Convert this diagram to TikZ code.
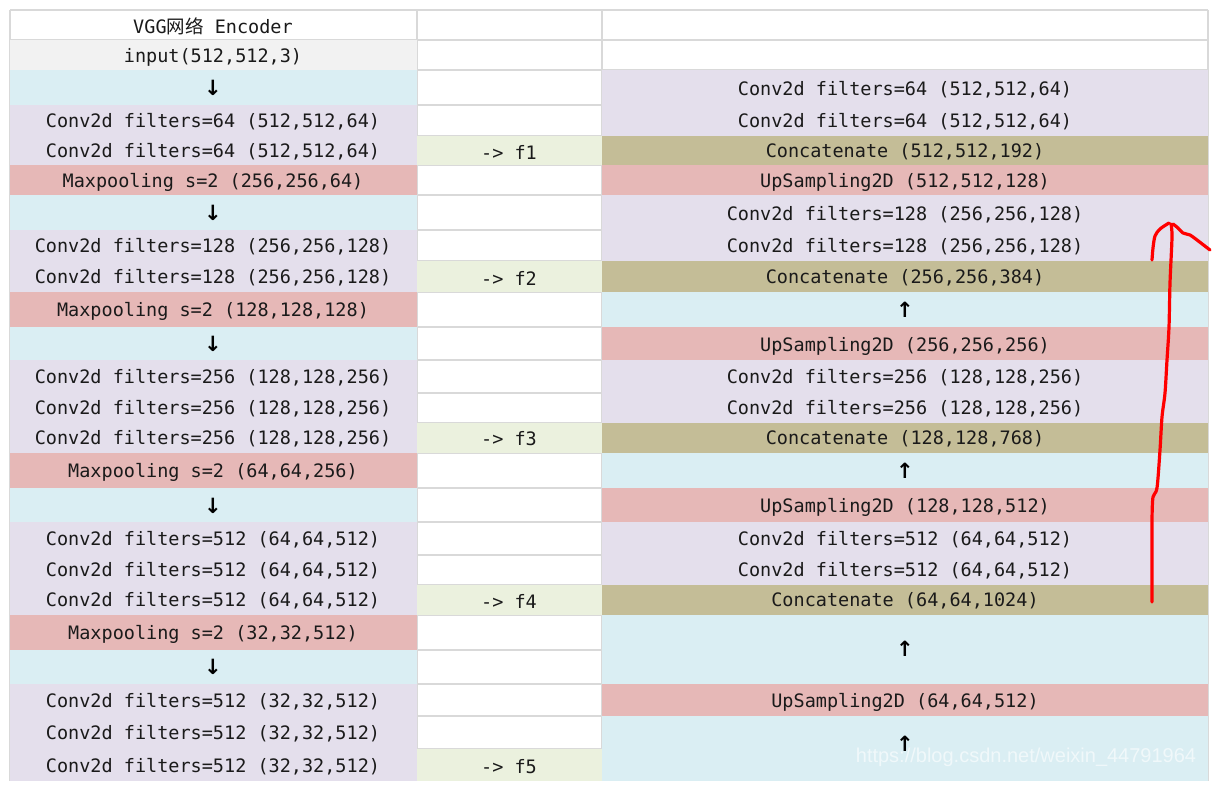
\documentclass[tikz,border=0pt]{standalone}
\usepackage{fontspec}
\setmonofont{DejaVu Sans Mono}
\newfontfamily\cjk{Noto Sans CJK SC}
\newfontfamily\wmfont{Liberation Sans}
\newfontfamily\arrowfont{DejaVu Sans}
\usepackage{tikz}

\definecolor{convcol}{HTML}{E4DFEC}
\definecolor{poolcol}{HTML}{E6B8B7}
\definecolor{flowcol}{HTML}{DAEEF3}
\definecolor{catcol}{HTML}{C4BD97}
\definecolor{featcol}{HTML}{EBF1DE}
\definecolor{incol}{HTML}{F2F2F2}
\definecolor{gridcol}{HTML}{D9D9D9}
\definecolor{inkcol}{HTML}{1A1A1A}

\tikzset{
	conv/.style={fill=convcol},
	pool/.style={fill=poolcol},
	flow/.style={fill=flowcol},
	cat/.style={fill=catcol},
	feat/.style={fill=featcol},
	inp/.style={fill=incol},
	gridline/.style={draw=gridcol, line width=1.5pt},
	txt/.style={font=\ttfamily\fontsize{18.5}{20}\selectfont, text=inkcol, inner sep=0pt},
	arw/.style={font=\arrowfont\bfseries\fontsize{21}{24}\selectfont, text=black, inner sep=0pt},
	hand/.style={draw=red, line width=3.2pt, line cap=round, line join=round},
}

\begin{document}
\begin{tikzpicture}[x=1pt, y=-1pt]
	\useasboundingbox (0,0) rectangle (1227,791);

	% grid
	\draw[gridline] (10,10) -- (1208,10);
	\draw[gridline] (10,40) -- (1208,40);
	\draw[gridline] (10,70) -- (1208,70);
	\draw[gridline] (10,105) -- (1208,105);
	\draw[gridline] (10,136) -- (1208,136);
	\draw[gridline] (10,165) -- (1208,165);
	\draw[gridline] (10,195) -- (1208,195);
	\draw[gridline] (10,230) -- (1208,230);
	\draw[gridline] (10,261) -- (1208,261);
	\draw[gridline] (10,292) -- (1208,292);
	\draw[gridline] (10,327) -- (1208,327);
	\draw[gridline] (10,360) -- (1208,360);
	\draw[gridline] (10,393) -- (1208,393);
	\draw[gridline] (10,423) -- (1208,423);
	\draw[gridline] (10,453) -- (1208,453);
	\draw[gridline] (10,488) -- (1208,488);
	\draw[gridline] (10,522) -- (1208,522);
	\draw[gridline] (10,555) -- (1208,555);
	\draw[gridline] (10,585) -- (1208,585);
	\draw[gridline] (10,615) -- (1208,615);
	\draw[gridline] (10,650) -- (1208,650);
	\draw[gridline] (10,684) -- (1208,684);
	\draw[gridline] (10,716) -- (1208,716);
	\draw[gridline] (10,749) -- (1208,749);
	\draw[gridline] (10,10) -- (10,781);
	\draw[gridline] (417,10) -- (417,781);
	\draw[gridline] (602,10) -- (602,781);
	\draw[gridline] (1208,10) -- (1208,781);

	% encoder column
	\fill[inp]  (10,40)  rectangle (417,70);
	\fill[flow] (10,70)  rectangle (417,105);
	\fill[conv] (10,105) rectangle (417,165);
	\fill[pool] (10,165) rectangle (417,195);
	\fill[flow] (10,195) rectangle (417,230);
	\fill[conv] (10,230) rectangle (417,292);
	\fill[pool] (10,292) rectangle (417,327);
	\fill[flow] (10,327) rectangle (417,360);
	\fill[conv] (10,360) rectangle (417,453);
	\fill[pool] (10,453) rectangle (417,488);
	\fill[flow] (10,488) rectangle (417,522);
	\fill[conv] (10,522) rectangle (417,615);
	\fill[pool] (10,615) rectangle (417,650);
	\fill[flow] (10,650) rectangle (417,684);
	\fill[conv] (10,684) rectangle (417,781);

	% feature column
	\fill[feat] (417,136) rectangle (602,165);
	\fill[feat] (417,261) rectangle (602,292);
	\fill[feat] (417,423) rectangle (602,453);
	\fill[feat] (417,585) rectangle (602,615);
	\fill[feat] (417,749) rectangle (602,781);

	% decoder column
	\fill[conv] (602,70)  rectangle (1208,136);
	\fill[cat]  (602,136) rectangle (1208,165);
	\fill[pool] (602,165) rectangle (1208,195);
	\fill[conv] (602,195) rectangle (1208,261);
	\fill[cat]  (602,261) rectangle (1208,292);
	\fill[flow] (602,292) rectangle (1208,327);
	\fill[pool] (602,327) rectangle (1208,360);
	\fill[conv] (602,360) rectangle (1208,423);
	\fill[cat]  (602,423) rectangle (1208,453);
	\fill[flow] (602,453) rectangle (1208,488);
	\fill[pool] (602,488) rectangle (1208,522);
	\fill[conv] (602,522) rectangle (1208,585);
	\fill[cat]  (602,585) rectangle (1208,615);
	\fill[flow] (602,615) rectangle (1208,684);
	\fill[pool] (602,684) rectangle (1208,716);
	\fill[flow] (602,716) rectangle (1208,781);

	% encoder labels
	\node[txt] (enc)  at (213,26)  {VGG{\cjk 网络} Encoder};
	\node[txt] (in)   at (213,57)  {input(512,512,3)};
	\node[arw] (ea1)  at (213,88)  {↓};
	\node[txt] (e11)  at (213,122) {Conv2d filters=64 (512,512,64)};
	\node[txt] (e12)  at (213,152) {Conv2d filters=64 (512,512,64)};
	\node[txt] (ep1)  at (213,182) {Maxpooling s=2 (256,256,64)};
	\node[arw] (ea2)  at (213,213) {↓};
	\node[txt] (e21)  at (213,247) {Conv2d filters=128 (256,256,128)};
	\node[txt] (e22)  at (213,278) {Conv2d filters=128 (256,256,128)};
	\node[txt] (ep2)  at (213,311) {Maxpooling s=2 (128,128,128)};
	\node[arw] (ea3)  at (213,344) {↓};
	\node[txt] (e31)  at (213,378) {Conv2d filters=256 (128,128,256)};
	\node[txt] (e32)  at (213,409) {Conv2d filters=256 (128,128,256)};
	\node[txt] (e33)  at (213,439) {Conv2d filters=256 (128,128,256)};
	\node[txt] (ep3)  at (213,472) {Maxpooling s=2 (64,64,256)};
	\node[arw] (ea4)  at (213,506) {↓};
	\node[txt] (e41)  at (213,540) {Conv2d filters=512 (64,64,512)};
	\node[txt] (e42)  at (213,571) {Conv2d filters=512 (64,64,512)};
	\node[txt] (e43)  at (213,601) {Conv2d filters=512 (64,64,512)};
	\node[txt] (ep4)  at (213,634) {Maxpooling s=2 (32,32,512)};
	\node[arw] (ea5)  at (213,667) {↓};
	\node[txt] (e51)  at (213,702) {Conv2d filters=512 (32,32,512)};
	\node[txt] (e52)  at (213,734) {Conv2d filters=512 (32,32,512)};
	\node[txt] (e53)  at (213,767) {Conv2d filters=512 (32,32,512)};

	% feature labels
	\node[txt] (f1) at (509,152) {-> f1};
	\node[txt] (f2) at (509,278) {-> f2};
	\node[txt] (f3) at (509,439) {-> f3};
	\node[txt] (f4) at (509,601) {-> f4};
	\node[txt] (f5) at (509,767) {-> f5};

	% decoder labels
	\node[txt] (d11) at (905,90)  {Conv2d filters=64 (512,512,64)};
	\node[txt] (d12) at (905,122) {Conv2d filters=64 (512,512,64)};
	\node[txt] (dc1) at (905,152) {Concatenate (512,512,192)};
	\node[txt] (du1) at (905,182) {UpSampling2D (512,512,128)};
	\node[txt] (d21) at (905,215) {Conv2d filters=128 (256,256,128)};
	\node[txt] (d22) at (905,247) {Conv2d filters=128 (256,256,128)};
	\node[txt] (dc2) at (905,278) {Concatenate (256,256,384)};
	\node[arw] (da2) at (905,310) {↑};
	\node[txt] (du2) at (905,346) {UpSampling2D (256,256,256)};
	\node[txt] (d31) at (905,378) {Conv2d filters=256 (128,128,256)};
	\node[txt] (d32) at (905,409) {Conv2d filters=256 (128,128,256)};
	\node[txt] (dc3) at (905,439) {Concatenate (128,128,768)};
	\node[arw] (da3) at (905,471) {↑};
	\node[txt] (du3) at (905,507) {UpSampling2D (128,128,512)};
	\node[txt] (d41) at (905,540) {Conv2d filters=512 (64,64,512)};
	\node[txt] (d42) at (905,571) {Conv2d filters=512 (64,64,512)};
	\node[txt] (dc4) at (905,601) {Concatenate (64,64,1024)};
	\node[arw] (da4) at (905,649) {↑};
	\node[txt] (du4) at (905,702) {UpSampling2D (64,64,512)};
	\node[arw] (da5) at (905,744) {↑};

	% watermark
	\node[font=\wmfont\fontsize{20}{22}\selectfont, text=white, text opacity=0.6, inner sep=0pt] (wm) at (1026,757) {https://blog.csdn.net/weixin\_44791964};

	% hand drawn arrow
	\draw[hand] plot[smooth, tension=0.5] coordinates {(1152,602) (1152,560) (1152,520) (1153,497) (1157,488) (1160,450) (1162,417) (1165,393) (1167,360) (1169,327) (1170,283) (1172,237) (1171,224)};
	\draw[hand] plot[smooth, tension=0.5] coordinates {(1169,223) (1160,229) (1155,236) (1153,248) (1152,260)};
	\draw[hand] plot[smooth, tension=0.5] coordinates {(1173,224) (1178,228) (1183,233) (1190,235) (1197,240) (1210,250)};
\end{tikzpicture}
\end{document}
